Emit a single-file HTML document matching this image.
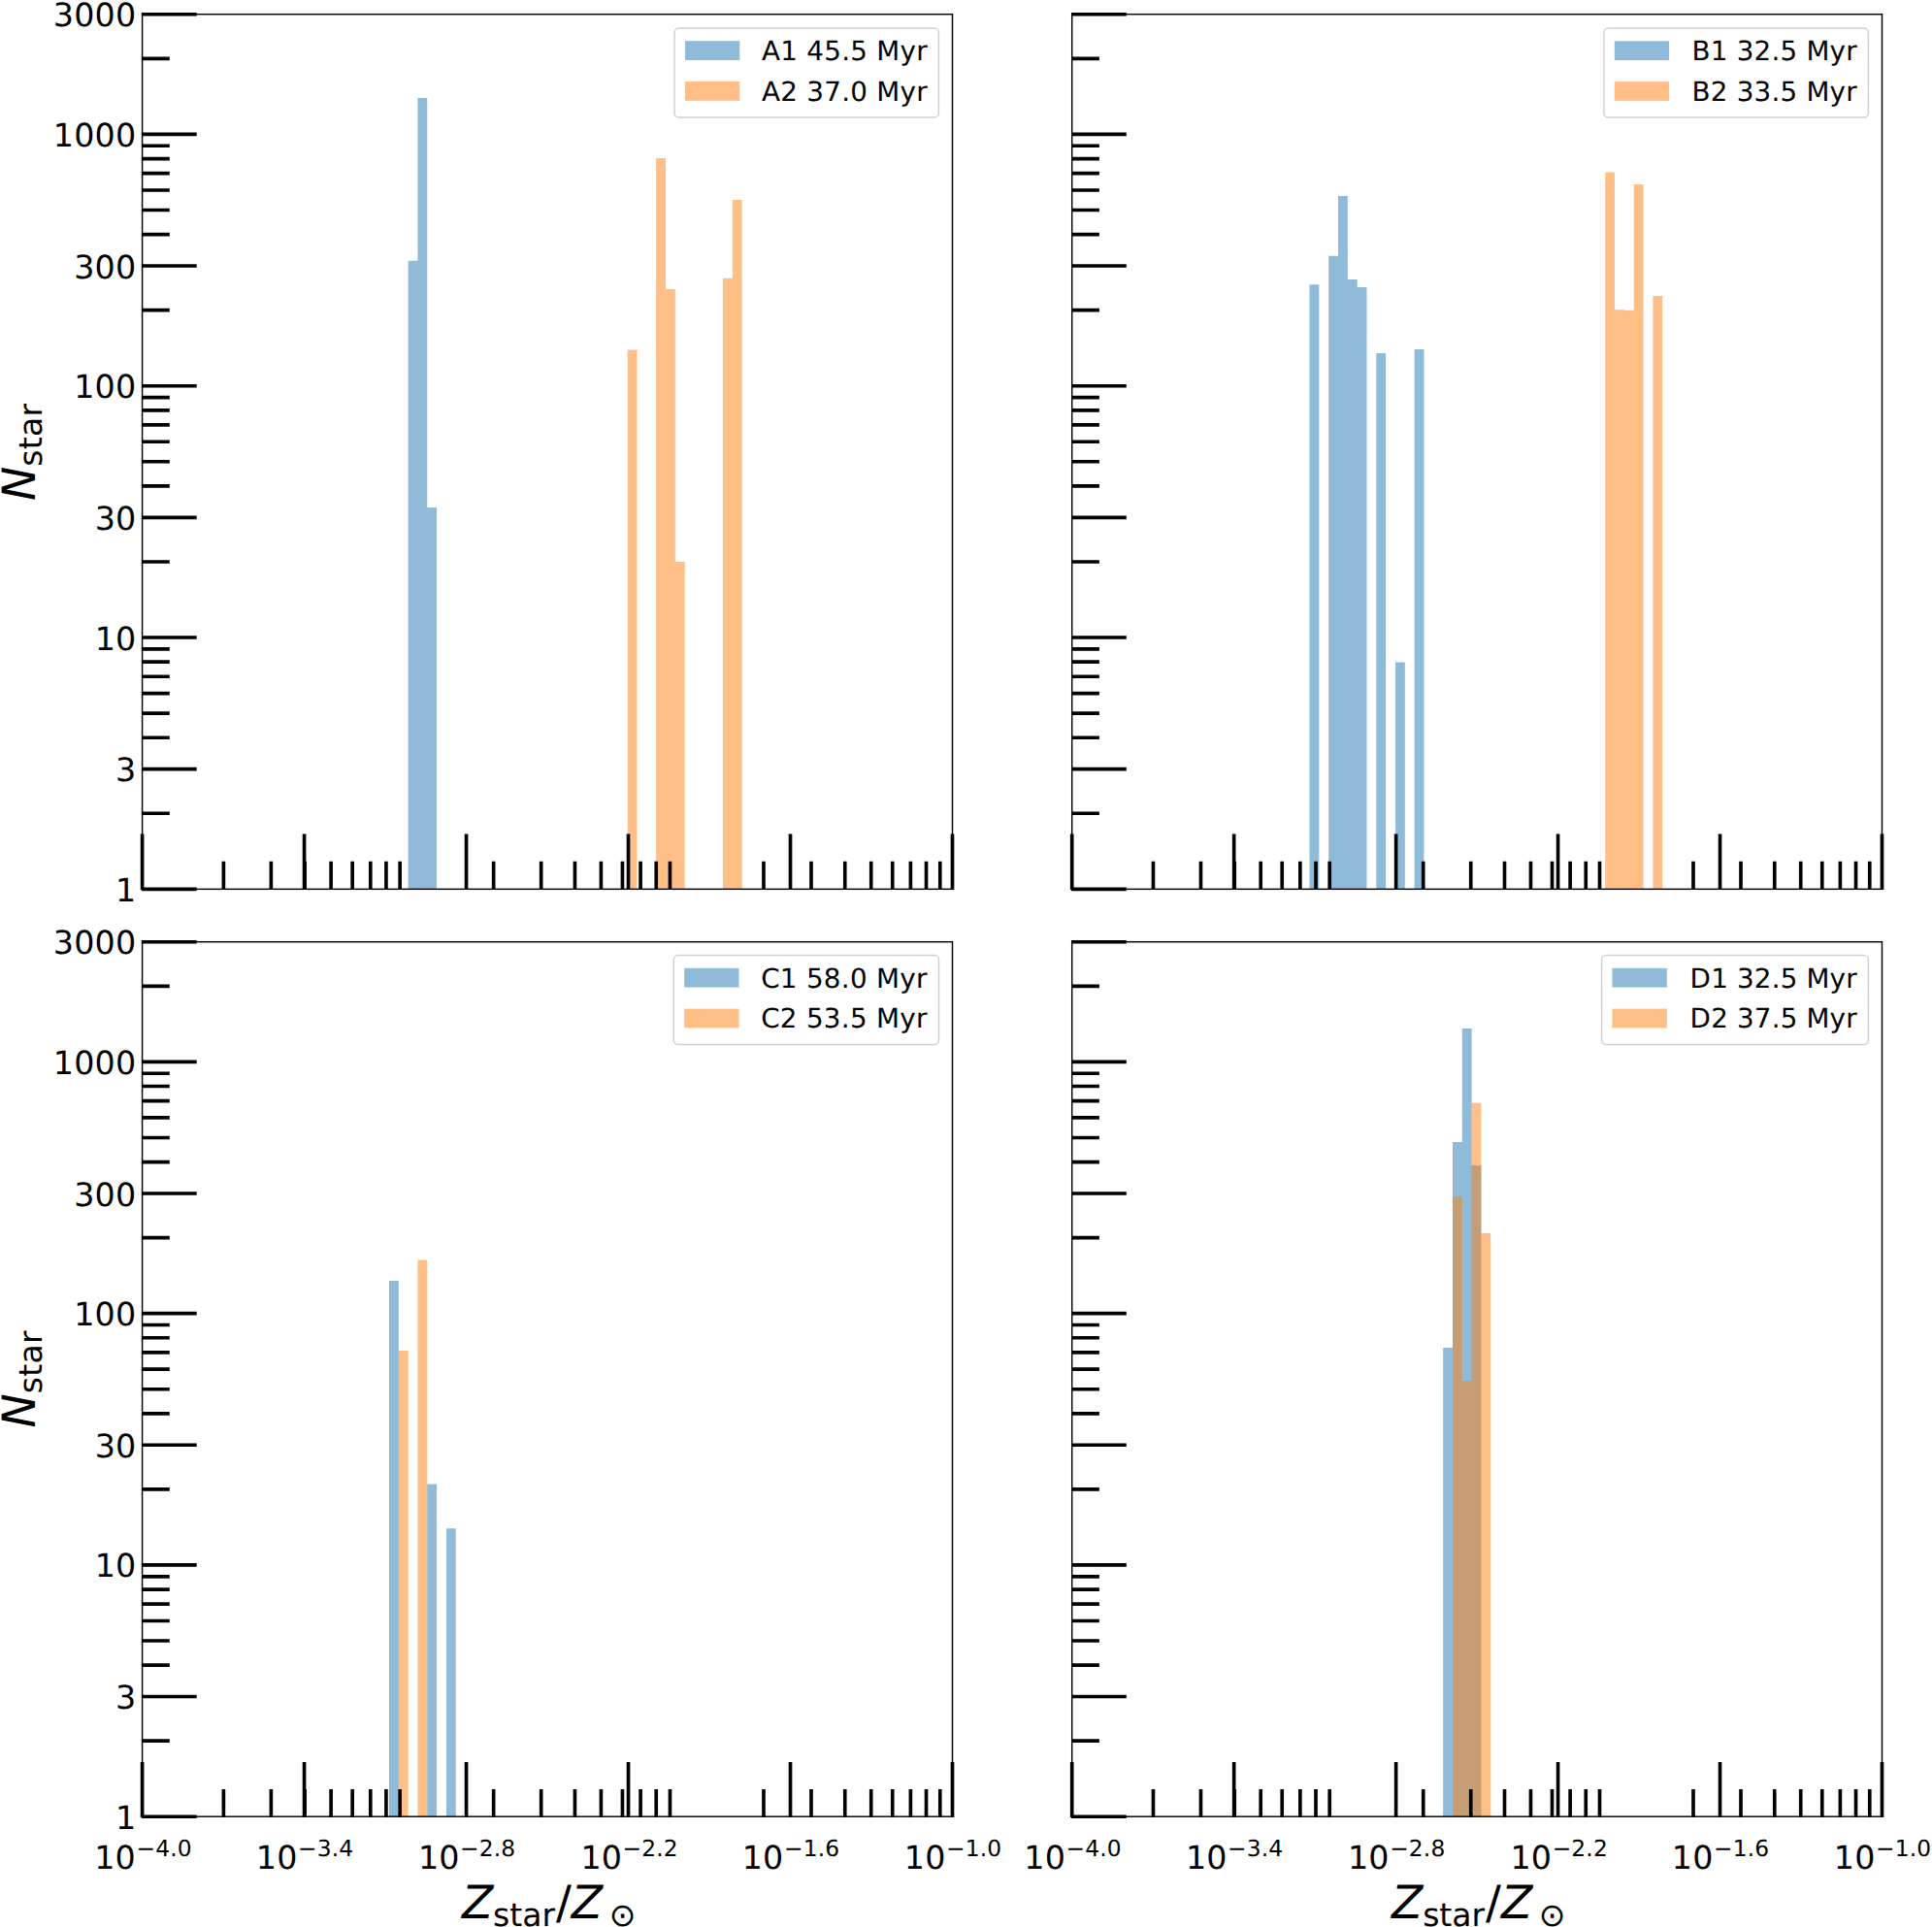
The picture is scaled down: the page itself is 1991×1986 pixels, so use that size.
<!DOCTYPE html>
<html lang="en"><head><meta charset="utf-8"><title>Metallicity histograms</title>
<style>html,body{margin:0;padding:0;background:#fff}svg{display:block}</style></head>
<body>
<svg width="1991" height="1986" viewBox="0 0 1991 1986" font-family='"DejaVu Sans", "Liberation Sans", sans-serif' fill="#000" text-rendering="geometricPrecision">
<rect width="1991" height="1986" fill="#fff"/>
<g id="panelA">
<path d="M420.6 916.35V268.85H430.43V101H440.26V523.1H450.09V916.35Z" fill="#1f77b4" fill-opacity="0.5"/>
<path d="M646.69 916.35V360.6H656.52V916.35ZM676.18 916.35V163H686.01V298.1H695.84V579H705.67V916.35ZM744.99 916.35V286.7H754.82V205.9H764.65V916.35Z" fill="#ff7f0e" fill-opacity="0.5"/>
<path d="M230.38 917.05V887.75M279.38 917.05V887.75M314.15 917.05V887.75M341.12 917.05V887.75M363.16 917.05V887.75M381.79 917.05V887.75M397.93 917.05V887.75M412.17 917.05V887.75M508.68 917.05V887.75M557.68 917.05V887.75M592.45 917.05V887.75M619.42 917.05V887.75M641.46 917.05V887.75M660.09 917.05V887.75M676.23 917.05V887.75M690.47 917.05V887.75M786.98 917.05V887.75M835.98 917.05V887.75M870.75 917.05V887.75M897.72 917.05V887.75M919.76 917.05V887.75M938.39 917.05V887.75M954.53 917.05V887.75M968.77 917.05V887.75M145.9 838.29H174.8M145.9 792.63H174.8M145.9 760.23H174.8M145.9 735.1H174.8M145.9 714.57H174.8M145.9 697.21H174.8M145.9 682.17H174.8M145.9 668.91H174.8M145.9 578.98H174.8M145.9 533.32H174.8M145.9 500.92H174.8M145.9 475.79H174.8M145.9 455.26H174.8M145.9 437.9H174.8M145.9 422.86H174.8M145.9 409.6H174.8M145.9 319.67H174.8M145.9 274.01H174.8M145.9 241.61H174.8M145.9 216.48H174.8M145.9 195.95H174.8M145.9 178.59H174.8M145.9 163.55H174.8M145.9 150.29H174.8M145.9 60.36H174.8M145.9 14.7H174.8M146.6 917.05V859.55M313.58 917.05V859.55M480.56 917.05V859.55M647.54 917.05V859.55M814.52 917.05V859.55M981.5 917.05V859.55M145.9 916.35H202.7M145.9 792.63H202.7M145.9 657.04H202.7M145.9 533.32H202.7M145.9 397.73H202.7M145.9 274.01H202.7M145.9 138.42H202.7M145.9 14.7H202.7" stroke="#000" stroke-width="3.65" fill="none"/>
<rect x="146.6" y="14.7" width="834.9" height="901.65" fill="none" stroke="#000" stroke-width="1.45"/>
<text x="140.5" y="928.9" font-size="33.33" letter-spacing="0.23" text-anchor="end">1</text>
<text x="140.5" y="805.18" font-size="33.33" letter-spacing="0.23" text-anchor="end">3</text>
<text x="140.5" y="669.59" font-size="33.33" letter-spacing="0.23" text-anchor="end">10</text>
<text x="140.5" y="545.87" font-size="33.33" letter-spacing="0.23" text-anchor="end">30</text>
<text x="140.5" y="410.28" font-size="33.33" letter-spacing="0.23" text-anchor="end">100</text>
<text x="140.5" y="286.56" font-size="33.33" letter-spacing="0.23" text-anchor="end">300</text>
<text x="140.5" y="150.97" font-size="33.33" letter-spacing="0.23" text-anchor="end">1000</text>
<text x="140.5" y="27.25" font-size="33.33" letter-spacing="0.23" text-anchor="end">3000</text>
<text transform="translate(35.8 516.03) rotate(-90)" font-size="47.2"><tspan font-style="italic">N</tspan><tspan font-size="33.06" dy="7.2" letter-spacing="0.25">star</tspan></text>
<rect x="695.1" y="29" width="272.3" height="91.9" rx="4.5" fill="#fff" fill-opacity="0.8" stroke="#ccc" stroke-opacity="0.9" stroke-width="1.5"/>
<rect x="706" y="42.2" width="56.3" height="19.8" fill="#1f77b4" fill-opacity="0.5"/>
<text x="785" y="62" font-size="27.78" letter-spacing="0.28">A1 45.5 Myr</text>
<rect x="706" y="84" width="56.3" height="19.8" fill="#ff7f0e" fill-opacity="0.5"/>
<text x="785" y="103.8" font-size="27.78" letter-spacing="0.28">A2 37.0 Myr</text>
</g>
<g id="panelB">
<path d="M1349.51 916.35V293.3H1359.34V916.35ZM1369.17 916.35V263.8H1379V201.9H1388.83V288.1H1398.66V296H1408.49V916.35ZM1418.32 916.35V364H1428.15V916.35ZM1437.98 916.35V682.4H1447.81V916.35ZM1457.64 916.35V359.9H1467.47V916.35Z" fill="#1f77b4" fill-opacity="0.5"/>
<path d="M1654.24 916.35V177.6H1664.07V319.2H1673.9V319.8H1683.73V190.1H1693.56V916.35ZM1703.39 916.35V304.9H1713.22V916.35Z" fill="#ff7f0e" fill-opacity="0.5"/>
<path d="M1188.47 917.05V887.75M1237.47 917.05V887.75M1272.23 917.05V887.75M1299.2 917.05V887.75M1321.23 917.05V887.75M1339.86 917.05V887.75M1356 917.05V887.75M1370.23 917.05V887.75M1466.73 917.05V887.75M1515.73 917.05V887.75M1550.5 917.05V887.75M1577.47 917.05V887.75M1599.5 917.05V887.75M1618.13 917.05V887.75M1634.27 917.05V887.75M1648.5 917.05V887.75M1745 917.05V887.75M1794 917.05V887.75M1828.77 917.05V887.75M1855.73 917.05V887.75M1877.77 917.05V887.75M1896.4 917.05V887.75M1912.53 917.05V887.75M1926.77 917.05V887.75M1104 838.29H1132.9M1104 792.63H1132.9M1104 760.23H1132.9M1104 735.1H1132.9M1104 714.57H1132.9M1104 697.21H1132.9M1104 682.17H1132.9M1104 668.91H1132.9M1104 578.98H1132.9M1104 533.32H1132.9M1104 500.92H1132.9M1104 475.79H1132.9M1104 455.26H1132.9M1104 437.9H1132.9M1104 422.86H1132.9M1104 409.6H1132.9M1104 319.67H1132.9M1104 274.01H1132.9M1104 241.61H1132.9M1104 216.48H1132.9M1104 195.95H1132.9M1104 178.59H1132.9M1104 163.55H1132.9M1104 150.29H1132.9M1104 60.36H1132.9M1104 14.7H1132.9M1104.7 917.05V859.55M1271.66 917.05V859.55M1438.62 917.05V859.55M1605.58 917.05V859.55M1772.54 917.05V859.55M1939.5 917.05V859.55M1104 916.35H1160.8M1104 792.63H1160.8M1104 657.04H1160.8M1104 533.32H1160.8M1104 397.73H1160.8M1104 274.01H1160.8M1104 138.42H1160.8M1104 14.7H1160.8" stroke="#000" stroke-width="3.65" fill="none"/>
<rect x="1104.7" y="14.7" width="834.8" height="901.65" fill="none" stroke="#000" stroke-width="1.45"/>
<rect x="1652.9" y="29.1" width="272.5" height="91.9" rx="4.5" fill="#fff" fill-opacity="0.8" stroke="#ccc" stroke-opacity="0.9" stroke-width="1.5"/>
<rect x="1663.8" y="42.3" width="56.3" height="19.8" fill="#1f77b4" fill-opacity="0.5"/>
<text x="1743.6" y="62.1" font-size="27.78" letter-spacing="0.2">B1 32.5 Myr</text>
<rect x="1663.8" y="84.1" width="56.3" height="19.8" fill="#ff7f0e" fill-opacity="0.5"/>
<text x="1743.6" y="103.9" font-size="27.78" letter-spacing="0.2">B2 33.5 Myr</text>
</g>
<g id="panelC">
<path d="M400.94 1872.2V1320H410.77V1872.2ZM440.26 1872.2V1529.6H450.09V1872.2ZM459.92 1872.2V1575.2H469.75V1872.2Z" fill="#1f77b4" fill-opacity="0.5"/>
<path d="M410.77 1872.2V1392.1H420.6V1872.2ZM430.43 1872.2V1298.5H440.26V1872.2Z" fill="#ff7f0e" fill-opacity="0.5"/>
<path d="M230.38 1872.9V1844.1M279.38 1872.9V1844.1M314.15 1872.9V1844.1M341.12 1872.9V1844.1M363.16 1872.9V1844.1M381.79 1872.9V1844.1M397.93 1872.9V1844.1M412.17 1872.9V1844.1M508.68 1872.9V1844.1M557.68 1872.9V1844.1M592.45 1872.9V1844.1M619.42 1872.9V1844.1M641.46 1872.9V1844.1M660.09 1872.9V1844.1M676.23 1872.9V1844.1M690.47 1872.9V1844.1M786.98 1872.9V1844.1M835.98 1872.9V1844.1M870.75 1872.9V1844.1M897.72 1872.9V1844.1M919.76 1872.9V1844.1M938.39 1872.9V1844.1M954.53 1872.9V1844.1M968.77 1872.9V1844.1M145.9 1794.15H174.8M145.9 1748.5H174.8M145.9 1716.11H174.8M145.9 1690.98H174.8M145.9 1670.45H174.8M145.9 1653.09H174.8M145.9 1638.06H174.8M145.9 1624.8H174.8M145.9 1534.89H174.8M145.9 1489.23H174.8M145.9 1456.84H174.8M145.9 1431.71H174.8M145.9 1411.19H174.8M145.9 1393.83H174.8M145.9 1378.79H174.8M145.9 1365.53H174.8M145.9 1275.62H174.8M145.9 1229.97H174.8M145.9 1197.57H174.8M145.9 1172.45H174.8M145.9 1151.92H174.8M145.9 1134.56H174.8M145.9 1119.53H174.8M145.9 1106.26H174.8M145.9 1016.35H174.8M145.9 970.7H174.8M146.6 1872.9V1816.1M313.58 1872.9V1816.1M480.56 1872.9V1816.1M647.54 1872.9V1816.1M814.52 1872.9V1816.1M981.5 1872.9V1816.1M145.9 1872.2H202.7M145.9 1748.5H202.7M145.9 1612.93H202.7M145.9 1489.23H202.7M145.9 1353.67H202.7M145.9 1229.97H202.7M145.9 1094.4H202.7M145.9 970.7H202.7" stroke="#000" stroke-width="3.65" fill="none"/>
<rect x="146.6" y="970.7" width="834.9" height="901.5" fill="none" stroke="#000" stroke-width="1.45"/>
<text x="140.5" y="1884.75" font-size="33.33" letter-spacing="0.23" text-anchor="end">1</text>
<text x="140.5" y="1761.05" font-size="33.33" letter-spacing="0.23" text-anchor="end">3</text>
<text x="140.5" y="1625.48" font-size="33.33" letter-spacing="0.23" text-anchor="end">10</text>
<text x="140.5" y="1501.78" font-size="33.33" letter-spacing="0.23" text-anchor="end">30</text>
<text x="140.5" y="1366.22" font-size="33.33" letter-spacing="0.23" text-anchor="end">100</text>
<text x="140.5" y="1242.52" font-size="33.33" letter-spacing="0.23" text-anchor="end">300</text>
<text x="140.5" y="1106.95" font-size="33.33" letter-spacing="0.23" text-anchor="end">1000</text>
<text x="140.5" y="983.25" font-size="33.33" letter-spacing="0.23" text-anchor="end">3000</text>
<text transform="translate(35.8 1471.55) rotate(-90)" font-size="47.2"><tspan font-style="italic">N</tspan><tspan font-size="33.06" dy="7.2" letter-spacing="0.25">star</tspan></text>
<text y="1925.7" font-size="33.33"><tspan x="97.25" letter-spacing="0.15">10</tspan><tspan x="140.45" dy="-12.7" font-size="23.33" letter-spacing="0.15">−4.0</tspan></text>
<text y="1925.7" font-size="33.33"><tspan x="263.83" letter-spacing="0.15">10</tspan><tspan x="307.03" dy="-12.7" font-size="23.33" letter-spacing="0.15">−3.4</tspan></text>
<text y="1925.7" font-size="33.33"><tspan x="430.91" letter-spacing="0.15">10</tspan><tspan x="474.11" dy="-12.7" font-size="23.33" letter-spacing="0.15">−2.8</tspan></text>
<text y="1925.7" font-size="33.33"><tspan x="598.39" letter-spacing="0.15">10</tspan><tspan x="641.59" dy="-12.7" font-size="23.33" letter-spacing="0.15">−2.2</tspan></text>
<text y="1925.7" font-size="33.33"><tspan x="764.77" letter-spacing="0.15">10</tspan><tspan x="807.97" dy="-12.7" font-size="23.33" letter-spacing="0.15">−1.6</tspan></text>
<text y="1925.7" font-size="33.33"><tspan x="931.85" letter-spacing="0.15">10</tspan><tspan x="975.05" dy="-12.7" font-size="23.33" letter-spacing="0.15">−1.0</tspan></text>
<text x="475.9" y="1976.95" font-size="47.2"><tspan font-style="italic">Z</tspan><tspan font-size="33.06" dy="7.6" dx="-0.15">star</tspan><tspan dy="-7.6" dx="0.85">/</tspan><tspan font-style="italic">Z</tspan><tspan font-size="33.06" dy="7.6" dx="6.5">⊙</tspan></text>
<rect x="694.3" y="984.6" width="273.2" height="91.9" rx="4.5" fill="#fff" fill-opacity="0.8" stroke="#ccc" stroke-opacity="0.9" stroke-width="1.5"/>
<rect x="705.2" y="997.8" width="56.3" height="19.8" fill="#1f77b4" fill-opacity="0.5"/>
<text x="784.2" y="1017.6" font-size="27.78" letter-spacing="0.28">C1 58.0 Myr</text>
<rect x="705.2" y="1039.6" width="56.3" height="19.8" fill="#ff7f0e" fill-opacity="0.5"/>
<text x="784.2" y="1059.4" font-size="27.78" letter-spacing="0.28">C2 53.5 Myr</text>
</g>
<g id="panelD">
<path d="M1487.13 1872.2V1389.1H1496.96V1177H1506.79V1060.1H1516.62V1200.9H1526.45V1872.2Z" fill="#1f77b4" fill-opacity="0.5"/>
<path d="M1496.96 1872.2V1233H1506.79V1423H1516.62V1136.7H1526.45V1271H1536.28V1872.2Z" fill="#ff7f0e" fill-opacity="0.5"/>
<path d="M1188.47 1872.9V1844.1M1237.47 1872.9V1844.1M1272.23 1872.9V1844.1M1299.2 1872.9V1844.1M1321.23 1872.9V1844.1M1339.86 1872.9V1844.1M1356 1872.9V1844.1M1370.23 1872.9V1844.1M1466.73 1872.9V1844.1M1515.73 1872.9V1844.1M1550.5 1872.9V1844.1M1577.47 1872.9V1844.1M1599.5 1872.9V1844.1M1618.13 1872.9V1844.1M1634.27 1872.9V1844.1M1648.5 1872.9V1844.1M1745 1872.9V1844.1M1794 1872.9V1844.1M1828.77 1872.9V1844.1M1855.73 1872.9V1844.1M1877.77 1872.9V1844.1M1896.4 1872.9V1844.1M1912.53 1872.9V1844.1M1926.77 1872.9V1844.1M1104 1794.15H1132.9M1104 1748.5H1132.9M1104 1716.11H1132.9M1104 1690.98H1132.9M1104 1670.45H1132.9M1104 1653.09H1132.9M1104 1638.06H1132.9M1104 1624.8H1132.9M1104 1534.89H1132.9M1104 1489.23H1132.9M1104 1456.84H1132.9M1104 1431.71H1132.9M1104 1411.19H1132.9M1104 1393.83H1132.9M1104 1378.79H1132.9M1104 1365.53H1132.9M1104 1275.62H1132.9M1104 1229.97H1132.9M1104 1197.57H1132.9M1104 1172.45H1132.9M1104 1151.92H1132.9M1104 1134.56H1132.9M1104 1119.53H1132.9M1104 1106.26H1132.9M1104 1016.35H1132.9M1104 970.7H1132.9M1104.7 1872.9V1816.1M1271.66 1872.9V1816.1M1438.62 1872.9V1816.1M1605.58 1872.9V1816.1M1772.54 1872.9V1816.1M1939.5 1872.9V1816.1M1104 1872.2H1160.8M1104 1748.5H1160.8M1104 1612.93H1160.8M1104 1489.23H1160.8M1104 1353.67H1160.8M1104 1229.97H1160.8M1104 1094.4H1160.8M1104 970.7H1160.8" stroke="#000" stroke-width="3.65" fill="none"/>
<rect x="1104.7" y="970.7" width="834.8" height="901.5" fill="none" stroke="#000" stroke-width="1.45"/>
<text y="1925.7" font-size="33.33"><tspan x="1055.35" letter-spacing="0.15">10</tspan><tspan x="1098.55" dy="-12.7" font-size="23.33" letter-spacing="0.15">−4.0</tspan></text>
<text y="1925.7" font-size="33.33"><tspan x="1221.91" letter-spacing="0.15">10</tspan><tspan x="1265.11" dy="-12.7" font-size="23.33" letter-spacing="0.15">−3.4</tspan></text>
<text y="1925.7" font-size="33.33"><tspan x="1388.97" letter-spacing="0.15">10</tspan><tspan x="1432.17" dy="-12.7" font-size="23.33" letter-spacing="0.15">−2.8</tspan></text>
<text y="1925.7" font-size="33.33"><tspan x="1556.43" letter-spacing="0.15">10</tspan><tspan x="1599.63" dy="-12.7" font-size="23.33" letter-spacing="0.15">−2.2</tspan></text>
<text y="1925.7" font-size="33.33"><tspan x="1722.79" letter-spacing="0.15">10</tspan><tspan x="1765.99" dy="-12.7" font-size="23.33" letter-spacing="0.15">−1.6</tspan></text>
<text y="1925.7" font-size="33.33"><tspan x="1889.85" letter-spacing="0.15">10</tspan><tspan x="1933.05" dy="-12.7" font-size="23.33" letter-spacing="0.15">−1.0</tspan></text>
<text x="1433.95" y="1976.95" font-size="47.2"><tspan font-style="italic">Z</tspan><tspan font-size="33.06" dy="7.6" dx="-0.15">star</tspan><tspan dy="-7.6" dx="0.85">/</tspan><tspan font-style="italic">Z</tspan><tspan font-size="33.06" dy="7.6" dx="6.5">⊙</tspan></text>
<rect x="1650.6" y="984.6" width="274.8" height="91.9" rx="4.5" fill="#fff" fill-opacity="0.8" stroke="#ccc" stroke-opacity="0.9" stroke-width="1.5"/>
<rect x="1661.5" y="997.8" width="56.3" height="19.8" fill="#1f77b4" fill-opacity="0.5"/>
<text x="1741.6" y="1017.6" font-size="27.78" letter-spacing="0.17">D1 32.5 Myr</text>
<rect x="1661.5" y="1039.6" width="56.3" height="19.8" fill="#ff7f0e" fill-opacity="0.5"/>
<text x="1741.6" y="1059.4" font-size="27.78" letter-spacing="0.17">D2 37.5 Myr</text>
</g>
</svg>
</body></html>
